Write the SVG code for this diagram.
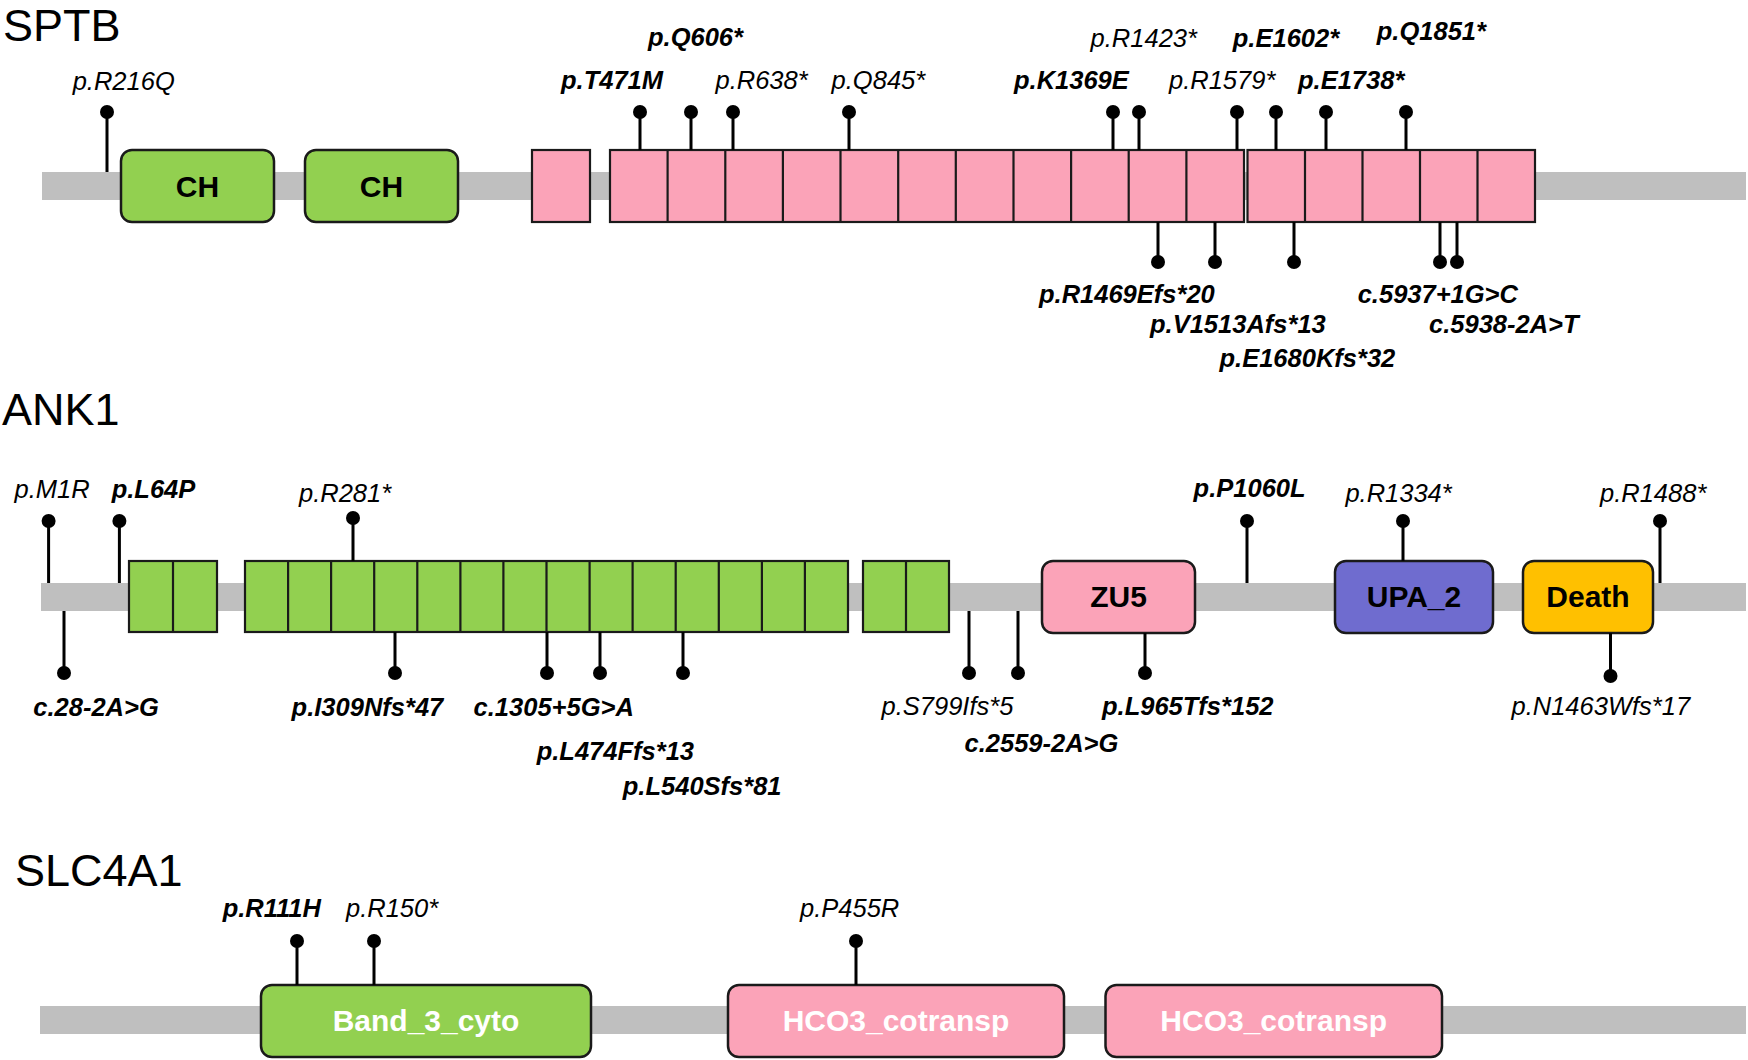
<svg xmlns="http://www.w3.org/2000/svg" width="1748" height="1060" viewBox="0 0 1748 1060">
<style>
.bg{fill:#ffffff}
.bar{fill:#bfbfbf}
.dom{stroke:#1a1a1a;stroke-width:2.5}
.cell{stroke:#1a1a1a;stroke-width:2.2}
.g{fill:#92d050}
.p{fill:#fba3b8}
.u{fill:#6f6ccf}
.o{fill:#ffc000}
.stick{stroke:#000;stroke-width:3;fill:none}
.ball{fill:#000}
.title{font-family:"Liberation Sans",Arial,sans-serif;font-size:45px;fill:#000}
.lab{font-family:"Liberation Sans",Arial,sans-serif;font-size:25.5px;font-style:italic;fill:#000}
.b{font-weight:bold}
.dt{font-family:"Liberation Sans",Arial,sans-serif;font-size:30px;font-weight:bold;text-anchor:middle;fill:#000}
.w{fill:#ffffff}
</style>
<rect class="bg" x="0" y="0" width="1748" height="1060"/>

<!-- ===== SPTB ===== -->
<g id="sptb">
<text class="title" x="3" y="41">SPTB</text>
<rect class="bar" x="42" y="172" width="1704" height="28"/>
<g id="sptb-ch1"><rect class="dom g" x="121" y="150" width="153" height="72" rx="11"/><text class="dt" x="197.5" y="197">CH</text></g>
<g id="sptb-ch2"><rect class="dom g" x="305" y="150" width="153" height="72" rx="11"/><text class="dt" x="381.5" y="197">CH</text></g>
<g id="sptb-rep0"><rect class="cell p" x="532" y="150" width="58" height="72"/></g>
<g id="sptb-rep1">
<rect class="cell p" x="610" y="150" width="634" height="72"/>
<path class="cell" fill="none" d="M667.6 150V222M725.3 150V222M782.9 150V222M840.5 150V222M898.2 150V222M955.8 150V222M1013.5 150V222M1071.1 150V222M1128.7 150V222M1186.4 150V222"/>
</g>
<g id="sptb-rep2">
<rect class="cell p" x="1247.5" y="150" width="287.5" height="72"/>
<path class="cell" fill="none" d="M1305 150V222M1362.5 150V222M1420 150V222M1477.5 150V222"/>
</g>
</g>

<!-- ===== ANK1 ===== -->
<g id="ank1">
<text class="title" x="2" y="425">ANK1</text>
<rect class="bar" x="41" y="583" width="1705" height="28"/>
<g id="ank1-ank1">
<rect class="cell g" x="129" y="561" width="88" height="71"/>
<path class="cell" fill="none" d="M173 561V632"/>
</g>
<g id="ank1-ank2">
<rect class="cell g" x="245" y="561" width="603" height="71"/>
<path class="cell" fill="none" d="M288.1 561V632M331.1 561V632M374.2 561V632M417.3 561V632M460.4 561V632M503.4 561V632M546.5 561V632M589.6 561V632M632.6 561V632M675.7 561V632M718.8 561V632M761.9 561V632M804.9 561V632"/>
</g>
<g id="ank1-ank3">
<rect class="cell g" x="863" y="561" width="86" height="71"/>
<path class="cell" fill="none" d="M906 561V632"/>
</g>
<g id="ank1-zu5"><rect class="dom p" x="1042" y="561" width="153" height="72" rx="11"/><text class="dt" x="1118.5" y="607">ZU5</text></g>
<g id="ank1-upa2"><rect class="dom u" x="1335" y="561" width="158" height="72" rx="11"/><text class="dt" x="1414" y="607">UPA_2</text></g>
<g id="ank1-death"><rect class="dom o" x="1523" y="561" width="130" height="72" rx="11"/><text class="dt" x="1588" y="607">Death</text></g>
</g>

<!-- ===== SLC4A1 ===== -->
<g id="slc4a1">
<text class="title" x="15" y="886">SLC4A1</text>
<rect class="bar" x="40" y="1006" width="1706" height="28"/>
<g id="slc-band3"><rect class="dom g" x="261" y="985" width="330" height="72" rx="11"/><text class="dt w" x="426" y="1031">Band_3_cyto</text></g>
<g id="slc-hco3a"><rect class="dom p" x="728" y="985" width="336" height="72" rx="11"/><text class="dt w" x="896" y="1031">HCO3_cotransp</text></g>
<g id="slc-hco3b"><rect class="dom p" x="1105.5" y="985" width="336.5" height="72" rx="11"/><text class="dt w" x="1273.7" y="1031">HCO3_cotransp</text></g>
</g>

<!-- ===== lollipop connectors ===== -->
<g id="connectors">
<path class="stick" d="M107 112V172M640 112V150M691 112V150M733 112V150M849 112V150M1113 112V150M1139 112V150M1237 112V150M1276 112V150M1326 112V150M1406 112V150
M1158 222V262M1215 222V262M1294 222V262M1440 222V262M1457 222V262
M48.6 521V583M119.4 521V583M353 521V561M1247 521V583M1403 521V561M1660 521V583
M64 611V673M395 632V673M547 632V673M600 632V673M683 632V673M969 611V673M1018 611V673M1145 633V673M1610.5 633V676
M297 941V985M374 941V985M856 941V985"/>
<g class="ball">
<circle cx="107" cy="112" r="7"/><circle cx="640" cy="112" r="7"/><circle cx="691" cy="112" r="7"/><circle cx="733" cy="112" r="7"/><circle cx="849" cy="112" r="7"/><circle cx="1113" cy="112" r="7"/><circle cx="1139" cy="112" r="7"/><circle cx="1237" cy="112" r="7"/><circle cx="1276" cy="112" r="7"/><circle cx="1326" cy="112" r="7"/><circle cx="1406" cy="112" r="7"/>
<circle cx="1158" cy="262" r="7"/><circle cx="1215" cy="262" r="7"/><circle cx="1294" cy="262" r="7"/><circle cx="1440" cy="262" r="7"/><circle cx="1457" cy="262" r="7"/>
<circle cx="48.6" cy="521" r="7"/><circle cx="119.4" cy="521" r="7"/><circle cx="353" cy="518" r="7"/><circle cx="1247" cy="521" r="7"/><circle cx="1403" cy="521" r="7"/><circle cx="1660" cy="521" r="7"/>
<circle cx="64" cy="673" r="7"/><circle cx="395" cy="673" r="7"/><circle cx="547" cy="673" r="7"/><circle cx="600" cy="673" r="7"/><circle cx="683" cy="673" r="7"/><circle cx="969" cy="673" r="7"/><circle cx="1018" cy="673" r="7"/><circle cx="1145" cy="673" r="7"/><circle cx="1610.5" cy="676" r="7"/>
<circle cx="297" cy="941" r="7"/><circle cx="374" cy="941" r="7"/><circle cx="856" cy="941" r="7"/>
</g>
</g>

<!-- ===== mutation labels ===== -->
<g id="labels">
<text class="lab" x="72.7" y="90">p.R216Q</text>
<text class="lab b" x="561" y="89">p.T471M</text>
<text class="lab b" x="648" y="46">p.Q606*</text>
<text class="lab" x="715.5" y="89">p.R638*</text>
<text class="lab" x="831.6" y="89">p.Q845*</text>
<text class="lab b" x="1014" y="89">p.K1369E</text>
<text class="lab" x="1090.6" y="47">p.R1423*</text>
<text class="lab b" x="1232.8" y="47">p.E1602*</text>
<text class="lab b" x="1376.8" y="40">p.Q1851*</text>
<text class="lab" x="1169" y="89">p.R1579*</text>
<text class="lab b" x="1298" y="89">p.E1738*</text>
<text class="lab b" x="1039" y="303">p.R1469Efs*20</text>
<text class="lab b" x="1150" y="333">p.V1513Afs*13</text>
<text class="lab b" x="1219.5" y="367">p.E1680Kfs*32</text>
<text class="lab b" x="1357.7" y="303">c.5937+1G&gt;C</text>
<text class="lab b" x="1429" y="333">c.5938-2A&gt;T</text>

<text class="lab" x="14.5" y="498">p.M1R</text>
<text class="lab b" x="111.7" y="498">p.L64P</text>
<text class="lab" x="299" y="502">p.R281*</text>
<text class="lab b" x="1193.6" y="497">p.P1060L</text>
<text class="lab" x="1345.4" y="502">p.R1334*</text>
<text class="lab" x="1600" y="502">p.R1488*</text>
<text class="lab b" x="33.3" y="716">c.28-2A&gt;G</text>
<text class="lab b" x="291.6" y="716">p.I309Nfs*47</text>
<text class="lab b" x="473.6" y="716">c.1305+5G&gt;A</text>
<text class="lab b" x="536.7" y="760">p.L474Ffs*13</text>
<text class="lab b" x="622.8" y="795">p.L540Sfs*81</text>
<text class="lab" x="881.5" y="715">p.S799Ifs*5</text>
<text class="lab b" x="964.5" y="752">c.2559-2A&gt;G</text>
<text class="lab b" x="1102" y="715">p.L965Tfs*152</text>
<text class="lab" x="1511.5" y="715">p.N1463Wfs*17</text>

<text class="lab b" x="222.7" y="917">p.R111H</text>
<text class="lab" x="346" y="917">p.R150*</text>
<text class="lab" x="800" y="917">p.P455R</text>
</g>
</svg>
